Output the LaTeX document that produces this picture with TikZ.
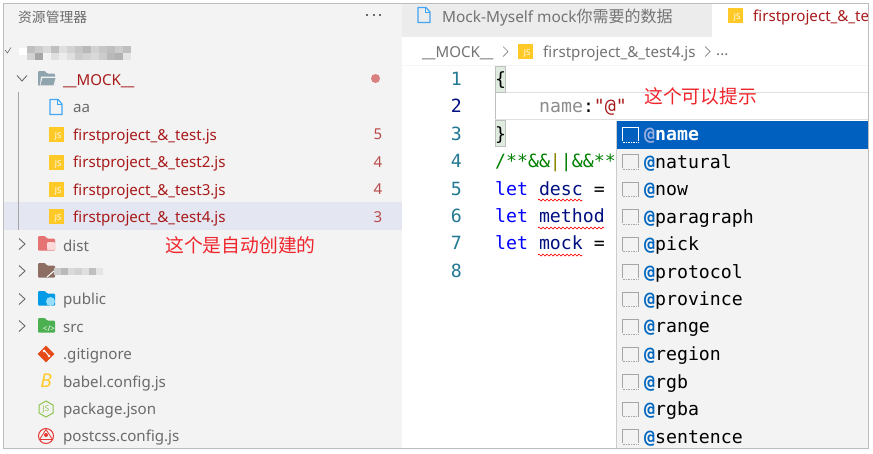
\documentclass[tikz,border=0pt]{standalone}
\usepackage{fontspec}
\setmainfont{Noto Sans}
\newfontfamily\cjk{Noto Sans CJK SC}
\newfontfamily\codef{DejaVu Sans Mono}
\usetikzlibrary{decorations.pathmorphing}
\definecolor{sidebg}{HTML}{F3F3F3}
\definecolor{tabbg}{HTML}{ECECEC}
\definecolor{selrow}{HTML}{E4E6F1}
\definecolor{frameg}{HTML}{BDBDBD}
\definecolor{uitext}{HTML}{6A6A6A}
\definecolor{errred}{HTML}{A81A1A}
\definecolor{badge}{HTML}{B94A4A}
\definecolor{jsy}{HTML}{FFCA28}
\definecolor{noteRed}{HTML}{F0252C}
\definecolor{lnum}{HTML}{237893}
\definecolor{popsel}{HTML}{0060C0}
\definecolor{atblue}{HTML}{0066BF}
\definecolor{codeblue}{HTML}{0000FF}
\definecolor{vardark}{HTML}{001080}
\definecolor{cmtg}{HTML}{008000}
\definecolor{docblue}{HTML}{42A5F5}
\definecolor{foldgray}{HTML}{90A4AE}
\definecolor{folddist}{HTML}{E57373}
\definecolor{foldbrown}{HTML}{8D6E63}
\definecolor{foldpub}{HTML}{039BE5}
\definecolor{foldsrc}{HTML}{4CAF50}
\definecolor{gitor}{HTML}{E64A19}
\definecolor{pkggr}{HTML}{8BC34A}
\definecolor{postred}{HTML}{E53935}
\tikzset{
  x=1pt,y=-1pt,
  ui/.style={anchor=west,inner sep=0pt,text=uitext,yshift=-1.2pt,font=\fontsize{15.1}{17}\selectfont},
  err/.style={ui,text=errred},
  num/.style={anchor=center,inner sep=0pt,text=badge,font=\fontsize{15}{17}\selectfont},
  note/.style={anchor=west,inner sep=0pt,text=noteRed,font=\cjk\fontsize{18.8}{21}\selectfont},
  code/.style={anchor=base west,inner sep=0pt,font=\codef\fontsize{18.2}{20}\selectfont},
  lno/.style={anchor=base east,inner sep=0pt,text=lnum,font=\codef\fontsize{18.2}{20}\selectfont},
  chev/.style={draw=#1,line width=0.9pt,fill=none},
  chev/.default={uitext},
  squig/.style={draw=red,line width=0.7pt,decorate,decoration={zigzag,amplitude=1pt,segment length=4pt}},
  itembox/.style={draw=#1,line width=0.7pt,fill=none},
  itembox/.default={gray!70}
}
\newcommand{\jsicon}[3]{% name, x, y centre
  \fill[jsy] (#2-7.5,#3-7.5) rectangle (#2+7.5,#3+7.5);
  \node[inner sep=0pt,text=white,font=\bfseries\fontsize{8}{9}\selectfont] (#1) at (#2+2.2,#3+2.8) {JS};
}
\newcommand{\docicon}[2]{% x,y centre
  \draw[draw=docblue,line width=1.2pt,line join=round] (#1-6,#2-7.5) -- (#1+2,#2-7.5) -- (#1+6,#2-3) -- (#1+6,#2+7.5) -- (#1-6,#2+7.5) -- cycle;
  \draw[draw=docblue,line width=1pt] (#1+1.5,#2-7.5) -- (#1+1.5,#2-2.5) -- (#1+6,#2-2.5);
}
\newcommand{\chevr}[2]{\draw[chev] (#1-3,#2-5.5) -- (#1+3,#2) -- (#1-3,#2+5.5);}
\newcommand{\folder}[3]{% x-left,y centre,colour
  \fill[#3,rounded corners=1pt] (#1,#2-8) -- (#1+7,#2-8) -- (#1+9,#2-5.5) -- (#1+17,#2-5.5) -- (#1+17,#2+6.5) -- (#1,#2+6.5) -- cycle;
}
\newcommand{\popbox}[1]{%
  \draw[itembox] (622.5,#1+6) -- (622.5,#1-7.5) -- (638,#1-7.5) -- (638,#1+6);
  \draw[itembox,densely dotted] (622.5,#1+7) -- (638,#1+7);
}
\newcommand{\popitem}[3]{% name, y, text
  \popbox{#2}
  \node[code,anchor=west,text=black,yshift=-1.2pt] (#1) at (644,#2) {\textcolor{atblue}{\bfseries @}#3};
}
\begin{document}
\begin{tikzpicture}
\useasboundingbox (0,0) rectangle (873,453);
\fill[white] (0,0) rectangle (873,453);
% panels
\fill[sidebg] (3.5,3.5) rectangle (402,448);
\fill[tabbg] (402,3.5) rectangle (712,37);
\fill[white] (712,3.5) rectangle (868,37);
\fill[selrow] (3.5,202) rectangle (402,230);
\draw[gray!70,line width=0.5pt] (18.5,92) -- (18.5,230);
% sidebar header
\node[ui,font=\cjk\fontsize{13.8}{15}\selectfont] (title) at (18,16) {资源管理器};
\foreach \px in {367,373.5,380}{\fill[uitext] (\px-1,14.5-1) rectangle (\px+1,14.5+1);}
% root row, pixelated
\draw[chev,line width=0.6pt] (5,50) -- (7.5,53) -- (11,47.5);
\foreach \px/\py/\pc in {
 19/48/white,27/46/gray!50,35/46/gray!40,43/46/gray!30,51/46/gray!50,59/46/gray!25,67/46/gray!35,75/46/gray!45,83/46/gray!55,91/46/gray!35,99/46/gray!45,107/46/gray!50,115/46/gray!40,123/46/gray!50,
 27/53/gray!35,35/53/gray!70,43/53/gray!10,51/53/gray!25,59/53/gray!15,67/53/gray!25,75/53/gray!40,83/53/gray!35,91/53/gray!30,99/53/gray!40,107/53/gray!55,115/53/gray!60,123/53/gray!20}
 {\fill[\pc] (\px,\py) rectangle +(8,7);}
% __MOCK__
\draw[chev] (17,75.5) -- (22,81) -- (27,75.5);
\folder{38}{79}{foldgray}
\fill[sidebg] (41,76.5) -- (57,76.5) -- (55,85.5) -- (40,85.5) -- cycle;
\fill[foldgray] (42.5,78) -- (55.5,78) -- (53.5,85) -- (40.5,85) -- cycle;
\node[err] (mock) at (63,79.5) {\_\_MOCK\_\_};
\fill[red!70!black!50] (375.5,78.5) circle (4.5);
% files
\docicon{56}{107}
\node[ui] (faa) at (73,107.5) {aa};
\jsicon{ja}{56}{134}
\node[err] (f1) at (73,135) {firstproject\_\&\_test.js};
\node[num] (n1) at (378,134) {5};
\jsicon{jb}{56}{162}
\node[err] (f2) at (73,162) {firstproject\_\&\_test2.js};
\node[num] (n2) at (378,162) {4};
\jsicon{jc}{56}{189}
\node[err] (f3) at (73,190) {firstproject\_\&\_test3.js};
\node[num] (n3) at (378,189) {4};
\jsicon{jd}{56}{216}
\node[err] (f4) at (73,217) {firstproject\_\&\_test4.js};
\node[num] (n4) at (378,217) {3};
% folders
\chevr{22}{244}
\folder{38}{244}{folddist}
\fill[red!15!white,rounded corners=1pt] (47,242) rectangle (55,250);
\node[ui] (fdist) at (63,244.5) {dist};
\node[note] (note1) at (165,245.5) {这个是自动创建的};
\chevr{22}{271}
\folder{38}{271}{foldbrown}
\draw[white,line width=1pt] (47,277) -- (54,271);
\foreach \px/\pc in {54/gray!40,61/gray!55,68/gray!30,75/gray!35,82/gray!25,89/gray!50,96/gray!20}
 {\fill[\pc] (\px,268) rectangle +(7,7);}
\chevr{22}{299}
\folder{38}{299}{foldpub}
\fill[white!60!cyan] (50.5,301.5) circle (4.5);
\node[ui] (fpub) at (63,299.5) {public};
\chevr{22}{326}
\folder{38}{326}{foldsrc}
\node[inner sep=0pt,text=white,font=\fontsize{8}{9}\selectfont] (ssrc) at (49,329) {</>};
\node[ui] (fsrc) at (63,327) {src};
% gitignore
\fill[gitor,rotate around={45:(46,354)}] (40,348) rectangle (52,360);
\draw[white,line width=1pt] (44,350) -- (49,356);
\fill[white] (44,351) circle (1.3) (49,356) circle (1.3);
\node[ui] (fgit) at (63,354.5) {.gitignore};
% babel
\node[inner sep=0pt,text=jsy,font=\itshape\fontsize{19}{20}\selectfont] (bb) at (46,381) {B};
\node[ui] (fbab) at (63,382) {babel.config.js};
% package.json
\draw[pkggr,line width=1pt] (46,401) -- (53,405) -- (53,413) -- (46,417) -- (39,413) -- (39,405) -- cycle;
\node[inner sep=0pt,text=pkggr,font=\fontsize{8}{9}\selectfont] (jsn) at (46,409) {JS};
\node[ui] (fpkg) at (63,409.5) {package.json};
% postcss
\draw[postred,line width=1pt] (46,436) circle (7.5);
\draw[postred,line width=0.8pt] (46,429.5) -- (39.5,439.5) -- (52.5,439.5) -- cycle;
\fill[postred] (46,435) circle (2);
\node[ui] (fpost) at (63,436.5) {postcss.config.js};
% tabs
\docicon{424}{15}
\node[ui,text=gray!90!black,font=\fontsize{15.4}{17}\selectfont] (tab1) at (442,16.5) {Mock-Myself mock{\cjk\fontsize{16}{17}\selectfont 你需要的数据}};
\jsicon{jt}{735}{15}
\begin{scope}
\clip (740,3.5) rectangle (868,37);
\node[err] (tab2) at (753,16.5) {firstproject\_\&\_test4.js};
\end{scope}
% breadcrumb
\node[ui,text=gray!90!black] (bc1) at (422,52) {\_\_MOCK\_\_};
\draw[chev,gray,line width=0.7pt] (503,46.5) -- (508,51.5) -- (503,56.5);
\jsicon{jbc}{525}{51}
\node[ui,text=gray!90!black] (bc2) at (543,52) {firstproject\_\&\_test4.js};
\draw[chev,gray,line width=0.7pt] (705,46.5) -- (710,51.5) -- (705,56.5);
\node[ui,text=gray!90!black] (bc3) at (716,53) {...};
\fill[gray!8] (402,65) rectangle (868,66);
% bracket highlights and current line
\draw[gray!25,line width=1pt] (868,92.5) -- (495,92.5) -- (495,119) -- (868,119);
\draw[gray!50,line width=0.6pt] (495,92.5) -- (495,119);
\fill[green!20!gray!20,draw=gray!50,line width=0.5pt] (495,66) rectangle (505,92);
\fill[green!20!gray!20,draw=gray!50,line width=0.5pt] (495,120) rectangle (505,146);
% line numbers
\foreach \ln/\ly in {1/85,3/140,4/167,5/195,6/222,7/249,8/277}{\node[lno] (ln\ln) at (462,\ly) {\ln};}
\node[lno,text=vardark] (ln2) at (462,112) {2};
% code
\node[code] (c1) at (495,85) {\{};
\node[code] (c2) at (539,112) {\textcolor{gray!90}{name}:\textcolor{errred}{"@"}};
\node[code] (c3) at (495,140) {\}};
\node[code,text=cmtg] (c4) at (495,167) {/**\&\&\textcolor{olive}{|}\textcolor{cmtg}{|}\&\&**};
\node[code] (c5) at (495,195) {\textcolor{codeblue}{let} \textcolor{vardark}{desc} =};
\node[code] (c6) at (495,222) {\textcolor{codeblue}{let} \textcolor{vardark}{method}};
\node[code] (c7) at (495,249) {\textcolor{codeblue}{let} \textcolor{vardark}{mock} =};
\path[squig] (538,200) -- (582,200);
\path[squig] (538,228) -- (604,228);
\path[squig] (538,255) -- (582,255);
\node[note] (note2) at (644,96.5) {这个可以提示};
% popup
\fill[sidebg] (616,121) rectangle (868,448);
\draw[gray!40,line width=0.7pt] (616.5,121) -- (616.5,448);
\fill[popsel] (617,121) rectangle (868,149);
\draw[itembox=white] (622.5,141) -- (622.5,127) -- (638,127) -- (638,141);
\draw[itembox=white,densely dotted] (622.5,142.5) -- (638,142.5);
\node[code,anchor=west,text=white,yshift=-1.2pt] (p1) at (644,134.5) {\textcolor{cyan!40!blue!40!white}{\bfseries @}\textbf{name}};
\popitem{p2}{162}{natural}
\popitem{p3}{189.5}{now}
\popitem{p4}{217}{paragraph}
\popitem{p5}{244.5}{pick}
\popitem{p6}{272}{protocol}
\popitem{p7}{299.5}{province}
\popitem{p8}{327}{range}
\popitem{p9}{354.5}{region}
\popitem{p10}{382}{rgb}
\popitem{p11}{409.5}{rgba}
\begin{scope}
\clip (616,420) rectangle (868,448);
\popitem{p12}{437}{sentence}
\end{scope}
% frame
\draw[frameg,line width=1pt] (3.5,3.5) rectangle (868.5,448);
\end{tikzpicture}
\end{document}
